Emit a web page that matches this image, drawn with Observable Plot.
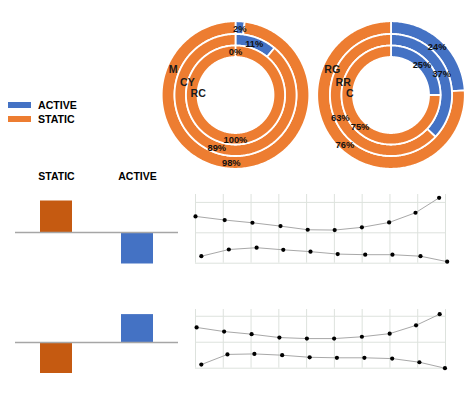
<!DOCTYPE html>
<html><head><meta charset="utf-8">
<script src="https://cdn.jsdelivr.net/npm/d3@7"></script>
<script src="https://cdn.jsdelivr.net/npm/@observablehq/plot@0.6"></script>
<style>
body{margin:0;background:#fff;}
#wrap{position:relative;width:474px;height:395px;overflow:hidden;background:#fff;font-family:"Liberation Sans",Arial,sans-serif;}
.part{position:absolute;}
.part svg{background:transparent !important;display:block;}
.leg{position:absolute;left:8px;height:12px;display:flex;align-items:center;font-weight:bold;font-size:10.6px;line-height:12px;color:#000;}
.sw{width:23px;height:6px;margin-right:7px;}
</style></head><body><div id="wrap"></div>
<script>
// ---- data ----
const seriesNames = ["ACTIVE", "STATIC"];
const seriesColors = ["#4472C4", "#ED7D31"];

const donut1Rings = ["M", "CY", "RC"];
const donut1Active = [2, 11, 0];
const donut1Static = [98, 89, 100];

const donut2Rings = ["RG", "RR", "C"];
const donut2Active = [24, 37, 25];
const donut2Static = [76, 63, 75];

const barCategories = ["STATIC", "ACTIVE"];
const barColors = ["#C55A11", "#4472C4"];
const bars1 = [1.0, -1.0];
const bars2 = [-1.0, 0.9];

const gridX = [0, 1, 2, 3, 4, 5, 6, 7, 8, 9];
const gridY = [0, 1, 2];

const line1UpperX = [0, 1.05, 2.05, 3.06, 4.04, 5.01, 5.99, 6.97, 7.92, 8.77];
const line1UpperY = [1.54, 1.42, 1.33, 1.22, 1.10, 1.09, 1.18, 1.34, 1.66, 2.15];
const line1LowerX = [0.21, 1.20, 2.20, 3.16, 4.14, 5.12, 6.11, 7.09, 8.10, 9.06];
const line1LowerY = [0.23, 0.45, 0.51, 0.44, 0.38, 0.30, 0.28, 0.28, 0.23, 0.05];

const line2UpperX = [0.04, 1.03, 2.02, 3.02, 4.01, 4.99, 5.99, 6.99, 7.94, 8.79];
const line2UpperY = [1.57, 1.41, 1.31, 1.18, 1.14, 1.14, 1.21, 1.33, 1.65, 2.08];
const line2LowerX = [0.21, 1.15, 2.12, 3.12, 4.11, 5.09, 6.08, 7.08, 8.06, 8.98];
const line2LowerY = [0.14, 0.53, 0.55, 0.50, 0.42, 0.40, 0.40, 0.37, 0.23, 0.00];

// ---- layout ----
const FONT = '"Liberation Sans", Arial, sans-serif';
const wrap = document.getElementById("wrap");
function place(node, left, top) {
  const d = document.createElement("div");
  d.className = "part";
  d.style.left = left + "px";
  d.style.top = top + "px";
  d.appendChild(node);
  wrap.appendChild(d);
}
const colorOf = s => seriesColors[seriesNames.indexOf(s)];

// ---- donuts ----
const ringRadii = [[61, 73.8], [49.5, 61], [38, 49.5]];
const ringLabelOffsets = [[-66.7, -25.8], [-55.5, -12.3], [-45, -1]];
const DS = 152;
function donut(rings, active, stat, left, top, cx, cy) {
  const marks = [];
  const labels = [];
  rings.forEach((name, i) => {
    const [r0, r1] = ringRadii[i];
    const segs = [{s: "ACTIVE", v: active[i]}, {s: "STATIC", v: stat[i]}];
    let acc = 0;
    segs.forEach(seg => {
      const a0 = acc / 100 * 2 * Math.PI;
      const a1 = (acc + seg.v) / 100 * 2 * Math.PI;
      acc += seg.v;
      const am = (a0 + a1) / 2, rm = (r0 + r1) / 2;
      labels.push({x: rm * Math.sin(am), y: -rm * Math.cos(am), text: seg.v + "%"});
      if (seg.v <= 0) return;
      const n = Math.max(2, Math.ceil((a1 - a0) / (Math.PI / 180)));
      const pts = [];
      for (let k = 0; k <= n; k++) { const a = a0 + (a1 - a0) * k / n; pts.push({x: r1 * Math.sin(a), y: -r1 * Math.cos(a)}); }
      for (let k = n; k >= 0; k--) { const a = a0 + (a1 - a0) * k / n; pts.push({x: r0 * Math.sin(a), y: -r0 * Math.cos(a)}); }
      marks.push(Plot.line(pts, {x: "x", y: "y", fill: colorOf(seg.s), stroke: "#fff", strokeWidth: 1.8, curve: "linear-closed"}));
    });
  });
  const nameLabels = rings.map((n, i) => ({x: ringLabelOffsets[i][0], y: ringLabelOffsets[i][1], name: n}));
  marks.push(Plot.text(labels, {x: "x", y: "y", text: "text", fontWeight: "bold", fontSize: 9.3, fill: "#111", dy: 1}));
  marks.push(Plot.text(nameLabels, {x: "x", y: "y", text: "name", textAnchor: "start", fontSize: 10.6, fontWeight: "bold", fill: "#1a1a1a"}));
  const p = Plot.plot({
    width: DS, height: DS, margin: 0,
    style: {fontFamily: FONT, background: "transparent", color: "#000"},
    x: {domain: [left - cx, left + DS - cx], range: [0, DS], axis: null},
    y: {domain: [top - cy, top + DS - cy], range: [0, DS], axis: null},
    marks
  });
  place(p, left, top);
}
donut(donut1Rings, donut1Active, donut1Static, 159, 18, 235, 94.5);
donut(donut2Rings, donut2Active, donut2Static, 314, 18, 390.5, 94.5);

// ---- legend ----
[["ACTIVE", 99], ["STATIC", 112.5]].forEach(([s, t]) => {
  const row = document.createElement("div");
  row.className = "leg";
  row.style.top = t + "px";
  const sw = document.createElement("div");
  sw.className = "sw";
  sw.style.background = colorOf(s);
  row.appendChild(sw);
  row.appendChild(document.createTextNode(s));
  wrap.appendChild(row);
});

// ---- bars ----
function barPlot(values, top, height, base, unit, showAxis) {
  const data = barCategories.map((c, i) => ({cat: c, value: values[i]}));
  const p = Plot.plot({
    width: 180, height, marginLeft: 15, marginRight: 2, marginTop: 22, marginBottom: 0,
    style: {fontFamily: FONT, fontSize: "10.5px", fontWeight: "bold", color: "#000", background: "transparent"},
    x: {domain: barCategories, paddingInner: 0.6, paddingOuter: 0.3, axis: showAxis ? "top" : null, tickSize: 0, tickPadding: 3, label: null},
    y: {domain: [-1.5, 1.5], range: [base + 1.5 * unit, base - 1.5 * unit], axis: null},
    color: {domain: barCategories, range: barColors},
    marks: [
      Plot.barY(data, {x: "cat", y: "value", fill: "cat"}),
      Plot.ruleY([0], {stroke: "#A6A6A6", strokeWidth: 1.5})
    ]
  });
  place(p, 0, top);
}
barPlot(bars1, 160, 110, 72, 31.5, true);
barPlot(bars2, 290, 100, 52, 31, false);

// ---- lines ----
function linePlot(ux, uy, lx, ly, top, mt, mb) {
  const up = ux.map((x, i) => ({x, y: uy[i]}));
  const lo = lx.map((x, i) => ({x, y: ly[i]}));
  const p = Plot.plot({
    width: 280, height: 90, marginLeft: 15, marginRight: 15, marginTop: mt, marginBottom: mb,
    style: {fontFamily: FONT, background: "transparent"},
    x: {domain: [0, 9], axis: null},
    y: {domain: [0, 2.26], axis: null},
    marks: [
      Plot.ruleX(gridX, {stroke: "#dde2dd", strokeWidth: 1}),
      Plot.ruleY(gridY, {stroke: "#dde2dd", strokeWidth: 1}),
      Plot.line(up, {x: "x", y: "y", stroke: "#a8a8a8", strokeWidth: 1}),
      Plot.line(lo, {x: "x", y: "y", stroke: "#a8a8a8", strokeWidth: 1}),
      Plot.dot(up, {x: "x", y: "y", r: 2.1, fill: "#000"}),
      Plot.dot(lo, {x: "x", y: "y", r: 2.1, fill: "#000"})
    ]
  });
  place(p, 180, top);
}
linePlot(line1UpperX, line1UpperY, line1LowerX, line1LowerY, 185, 9, 12.3);
linePlot(line2UpperX, line2UpperY, line2LowerX, line2LowerY, 295, 14, 17.3);
</script>
</body></html>
